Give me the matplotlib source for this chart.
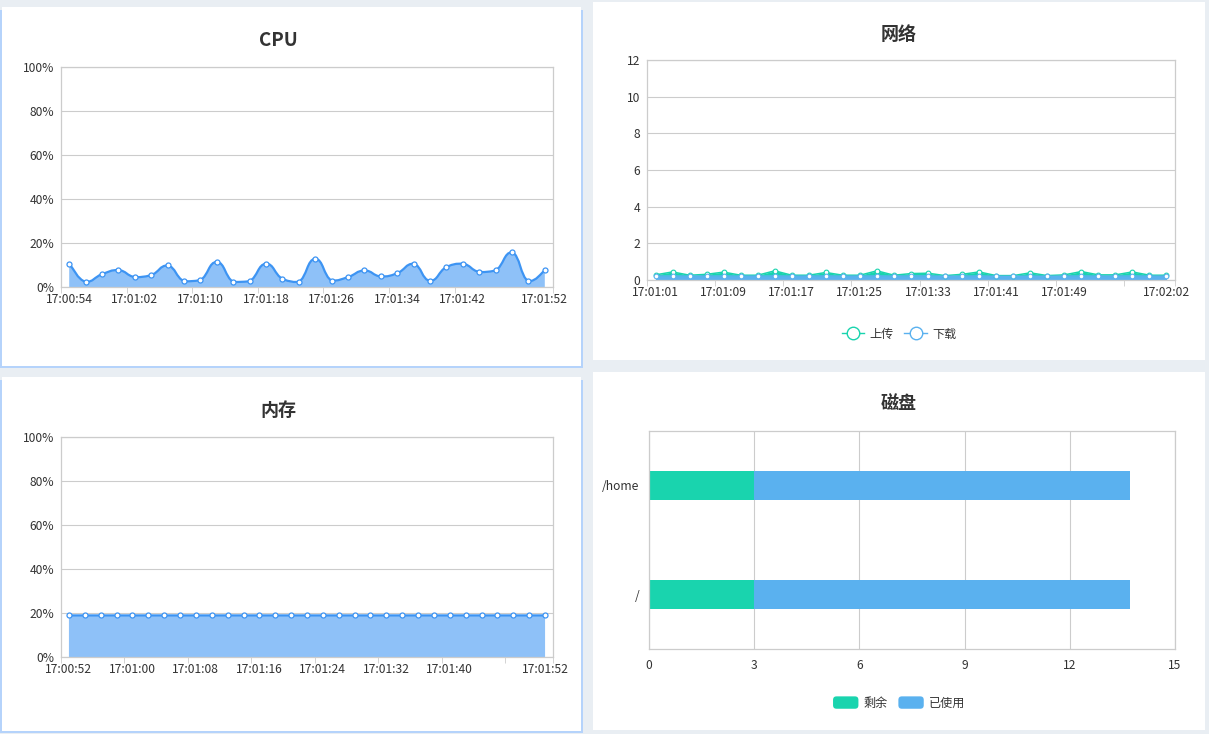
import numpy as np
import matplotlib
matplotlib.use('Agg')
import matplotlib.pyplot as plt
from matplotlib.patches import Rectangle, PathPatch, Patch, FancyBboxPatch
from matplotlib.path import Path
from matplotlib.lines import Line2D
from matplotlib.legend_handler import HandlerPatch

plt.rcParams['font.family'] = ['Noto Sans CJK SC', 'DejaVu Sans']

'''Data read off the dashboard'''
cpu_values = [10.6, 2.3, 5.8, 7.7, 4.5, 5.4, 9.8, 2.6, 3.1, 11.4, 2.3, 2.6, 10.6, 3.7, 2.3,
              12.8, 2.9, 4.5, 7.5, 4.8, 6.3, 10.6, 2.8, 9.1, 10.6, 6.8, 7.5, 15.8, 2.6, 7.5]
cpu_tick_idx = [0, 4, 8, 12, 16, 20, 24, 29]
cpu_tick_lab = ['17:00:54', '17:01:02', '17:01:10', '17:01:18', '17:01:26', '17:01:34', '17:01:42', '17:01:52']

mem_values = [18.9] * 31
mem_tick_idx = [0, 4, 8, 12, 16, 20, 24, 30]
mem_tick_lab = ['17:00:52', '17:01:00', '17:01:08', '17:01:16', '17:01:24', '17:01:32', '17:01:40', '17:01:52']

net_upload = [0.28, 0.44, 0.26, 0.31, 0.43, 0.26, 0.26, 0.50, 0.26, 0.26, 0.41, 0.26, 0.26, 0.50, 0.26, 0.35,
              0.37, 0.24, 0.31, 0.44, 0.24, 0.24, 0.39, 0.24, 0.28, 0.46, 0.28, 0.28, 0.44, 0.26, 0.26]
net_download = [0.21, 0.22, 0.21, 0.21, 0.22, 0.21, 0.21, 0.22, 0.21, 0.21, 0.22, 0.21, 0.21, 0.22, 0.21, 0.22,
                0.22, 0.20, 0.21, 0.22, 0.20, 0.20, 0.21, 0.20, 0.21, 0.22, 0.21, 0.21, 0.22, 0.21, 0.21]
net_tick_idx = [0, 4, 8, 12, 16, 20, 24, 30]
net_tick_lab = ['17:01:01', '17:01:09', '17:01:17', '17:01:25', '17:01:33', '17:01:41', '17:01:49', '17:02:02']
net_names = ['上传', '下载']

disk_names = ['/', '/home']
disk_free = [3.0, 3.0]
disk_used = [10.72, 10.72]
disk_series = ['剩余', '已使用']

'''Styles'''
W, H = 1209, 734
BG = '#e9eef3'
GRID = '#cccccc'
TXT = '#333333'
BLUE_LINE = '#3d94f3'
BLUE_FILL = '#8ec1f8'
GREEN = '#19d4ae'
SKY = '#5ab1ef'
SHADOW = '#b5d3fb'


def box(x0, y0, x1, y1): #pixel box -> figure fraction rect
    return [x0 / W, 1 - y1 / H, (x1 - x0) / W, (y1 - y0) / H]


def smooth_path(x, y, s=0.5, close=False): #bezier path through the points, echarts-like smoothing
    pts = np.column_stack([x, y]).astype(float)
    prev = np.vstack([pts[:1], pts[:-1]])
    nxt = np.vstack([pts[1:], pts[-1:]])
    v = (nxt - prev) * s / 2
    verts = [pts[0]]
    codes = [Path.MOVETO]
    for i in range(len(pts) - 1):
        lo, hi = min(pts[i, 1], pts[i + 1, 1]), max(pts[i, 1], pts[i + 1, 1])
        c1 = pts[i] + v[i]
        c2 = pts[i + 1] - v[i + 1]
        c1[1] = np.clip(c1[1], lo, hi) #no overshoot, like smoothConstraint
        c2[1] = np.clip(c2[1], lo, hi)
        verts += [c1, c2, pts[i + 1]]
        codes += [Path.CURVE4] * 3
    if close:
        verts += [(pts[-1, 0], 0), (pts[0, 0], 0), (0, 0)]
        codes += [Path.LINETO, Path.LINETO, Path.CLOSEPOLY]
    return Path(verts, codes)


def style_axes(ax):
    for sp in ax.spines.values():
        sp.set_color(GRID)
        sp.set_linewidth(0.9)
    ax.tick_params(colors=TXT, labelsize=8.7)
    ax.tick_params(axis='y', length=0, pad=5)
    ax.set_axisbelow(True)


def time_axis(ax, n, idx, labels):
    ax.set_xlim(-0.5, n - 0.5)
    ax.set_xticks(idx, labels)
    ax.set_xticks(list(np.arange(-0.5, n - 3, 4)) + [n - 0.5], minor=True) #ticks on category borders
    ax.tick_params(axis='x', which='major', length=0, pad=4)
    ax.tick_params(axis='x', which='minor', length=4, color=GRID)


def percent_axis(ax):
    ax.set_ylim(0, 100)
    ax.set_yticks(range(0, 101, 20), [f'{v}%' for v in range(0, 101, 20)])
    ax.yaxis.grid(True, color=GRID, lw=0.8)


def smooth_area(ax, values):
    x = np.arange(len(values))
    ax.add_patch(PathPatch(smooth_path(x, values, close=True), fc=BLUE_FILL, ec='none', zorder=2))
    ax.add_patch(PathPatch(smooth_path(x, values), fc='none', ec=BLUE_LINE, lw=1.6, zorder=3))
    ax.plot(x, values, ls='none', marker='o', ms=3.6, mfc='white', mec=BLUE_LINE, mew=0.9, zorder=4)


def round_box(legend, orig_handle, xdescent, ydescent, width, height, fontsize): #rounded legend swatch
    return FancyBboxPatch((-xdescent, -ydescent), width, height, boxstyle='round,pad=0,rounding_size=2.5',
                          fc=orig_handle.get_facecolor(), ec='none')


'''Figure and panels'''
fig = plt.figure(figsize=(W / 100, H / 100), dpi=100, facecolor=BG)
panels = [((2, 7, 581, 366), True), ((2, 377, 581, 731), True),
          ((593, 2, 1205, 360), False), ((593, 372, 1205, 730), False)]
for (x0, y0, x1, y1), glow in panels:
    if glow: #blue shadow on left, right and bottom
        r = box(x0 - 2, y0 + 3, x1 + 2, y1 + 2)
        fig.patches.append(Rectangle((r[0], r[1]), r[2], r[3], transform=fig.transFigure,
                                     fc=SHADOW, ec='none', zorder=-6))
    r = box(x0, y0, x1, y1)
    fig.patches.append(Rectangle((r[0], r[1]), r[2], r[3], transform=fig.transFigure,
                                 fc='white', ec='none', zorder=-5))

'''CPU'''
ax_cpu = fig.add_axes(box(61, 67, 553, 287))
style_axes(ax_cpu)
percent_axis(ax_cpu)
time_axis(ax_cpu, len(cpu_values), cpu_tick_idx, cpu_tick_lab)
smooth_area(ax_cpu, cpu_values)
fig.text(278 / W, 1 - 40 / H, 'CPU', ha='center', va='center', fontsize=13.5, fontweight='bold', color=TXT)

'''Memory'''
ax_mem = fig.add_axes(box(61, 437, 553, 657))
style_axes(ax_mem)
percent_axis(ax_mem)
time_axis(ax_mem, len(mem_values), mem_tick_idx, mem_tick_lab)
smooth_area(ax_mem, mem_values)
fig.text(278 / W, 1 - 410 / H, '内存', ha='center', va='center', fontsize=13, fontweight='bold', color=TXT)

'''Network'''
ax_net = fig.add_axes(box(647, 60, 1175, 280))
style_axes(ax_net)
ax_net.set_ylim(0, 12)
ax_net.set_yticks(range(0, 13, 2))
ax_net.yaxis.grid(True, color=GRID, lw=0.8)
time_axis(ax_net, len(net_upload), net_tick_idx, net_tick_lab)
xn = np.arange(len(net_upload))
ax_net.fill_between(xn, net_upload, color=GREEN, lw=0, zorder=2)
ax_net.fill_between(xn, net_download, color=SKY, lw=0, zorder=2.5)
ax_net.plot(xn, net_upload, color=GREEN, lw=1.1, marker='o', ms=3.4, mfc='white', mec=GREEN, mew=0.8, zorder=3)
ax_net.plot(xn, net_download, color=SKY, lw=1.1, marker='o', ms=3.4, mfc='white', mec=SKY, mew=0.8, zorder=3.5)
fig.text(899 / W, 1 - 34 / H, '网络', ha='center', va='center', fontsize=13, fontweight='bold', color=TXT)
net_handles = [Line2D([], [], color=c, lw=1, marker='o', ms=9, mfc='white', mec=c, mew=1)
               for c in [GREEN, SKY]]
fig.legend(net_handles, net_names, loc='center', bbox_to_anchor=(899 / W, 1 - 334 / H), ncol=2,
           frameon=False, fontsize=8.7, handlelength=1.9, handletextpad=0.4, columnspacing=0.9,
           labelcolor=TXT)

'''Disk'''
ax_disk = fig.add_axes(box(649, 431, 1175, 649))
style_axes(ax_disk)
yd = np.arange(len(disk_names))
ax_disk.barh(yd, disk_free, height=0.275, color=GREEN, zorder=2)
ax_disk.barh(yd, disk_used, left=disk_free, height=0.275, color=SKY, zorder=2)
ax_disk.set_xlim(0, 15)
ax_disk.set_xticks(range(0, 16, 3))
ax_disk.set_ylim(-0.5, len(disk_names) - 0.5)
ax_disk.set_yticks(yd, disk_names)
ax_disk.xaxis.grid(True, color=GRID, lw=0.8)
ax_disk.tick_params(axis='x', length=0, pad=7)
ax_disk.tick_params(axis='y', pad=7)
fig.text(899 / W, 1 - 404 / H, '磁盘', ha='center', va='center', fontsize=13, fontweight='bold', color=TXT)
disk_handles = [Patch(fc=c, ec='none') for c in [GREEN, SKY]]
fig.legend(disk_handles, disk_series, loc='center', bbox_to_anchor=(899 / W, 1 - 703 / H), ncol=2,
           frameon=False, fontsize=8.7, handlelength=2.1, handleheight=1.2, handletextpad=0.4,
           columnspacing=0.9, labelcolor=TXT, handler_map={Patch: HandlerPatch(patch_func=round_box)})

fig.savefig('out.png', dpi=100, facecolor=BG)
